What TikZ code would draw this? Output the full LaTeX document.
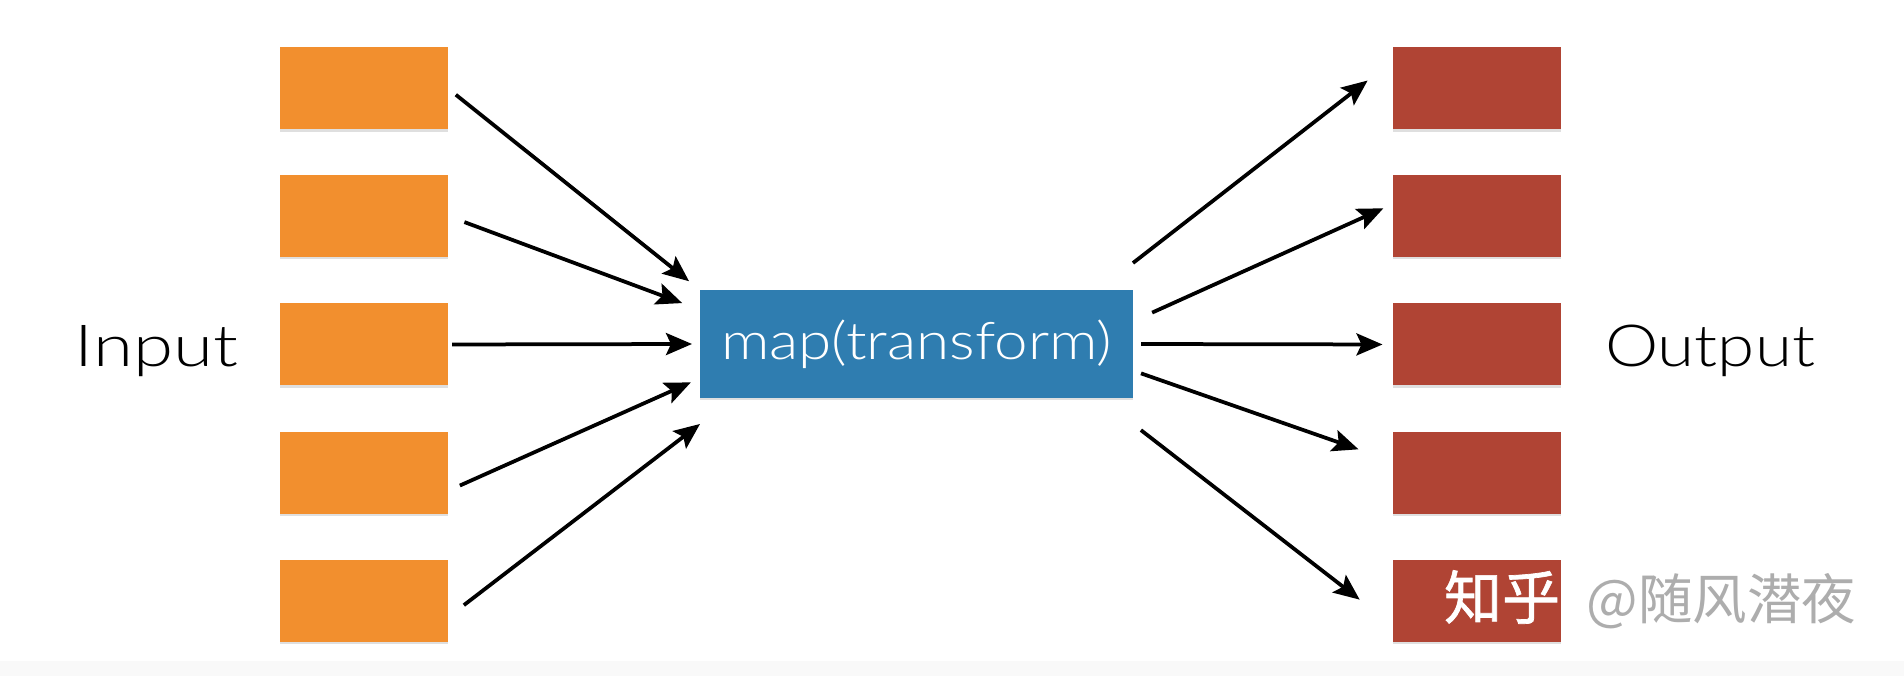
\documentclass[tikz,border=0pt]{standalone}
\usepackage{fontspec}
\setmainfont{Lato Light}[FakeStretch=1.16]
\newfontfamily\cjkbold{Noto Sans CJK SC}[FakeBold=1.2]
\newfontfamily\cjklight{Noto Sans CJK SC}
\usetikzlibrary{arrows.meta,shadows}
\definecolor{inorange}{HTML}{F28F2E}
\definecolor{outred}{HTML}{B04434}
\definecolor{mapblue}{HTML}{2F7DB0}
\tikzset{
  cellbox/.style={minimum width=3.36cm,minimum height=1.64cm,inner sep=0,outer sep=0,
    drop shadow={shadow xshift=0cm,shadow yshift=-0.05cm,opacity=0.25}},
  inbox/.style={cellbox,fill=inorange},
  outbox/.style={cellbox,fill=outred},
  mapbox/.style={cellbox,minimum width=8.66cm,minimum height=2.16cm,fill=mapblue,text=white},
  flow/.style={line width=0.075cm,-{Stealth[length=0.52cm,width=0.44cm,inset=0.1cm]}},
  sidelabel/.style={font=\fontsize{33}{36}\selectfont,inner sep=0}
}
\begin{document}
\begin{tikzpicture}
            \useasboundingbox (0,0) rectangle (38.08,13.52);

            % Faint band along the lower edge
            \fill [gray!5] (0,0) rectangle (38.08,0.3);

            % Input column
            \node (in1) [inbox] at (7.28,11.75) {};
            \node (in2) [inbox] at (7.28,9.20) {};
            \node (in3) [inbox] at (7.28,6.63) {};
            \node (in4) [inbox] at (7.28,4.06) {};
            \node (in5) [inbox] at (7.28,1.50) {};
            \node (inlabel) [sidelabel,xscale=1.08] at (3.13,6.50) {Input};

            % Output column
            \node (out1) [outbox] at (29.53,11.75) {};
            \node (out2) [outbox] at (29.53,9.20) {};
            \node (out3) [outbox] at (29.53,6.63) {};
            \node (out4) [outbox] at (29.53,4.06) {};
            \node (out5) [outbox] at (29.53,1.50) {};
            \node (outlabel) [sidelabel] at (34.20,6.50) {Output};

            % Middle box
            \node (map) [mapbox,font=\fontsize{29.5}{32}\selectfont] at (18.33,6.64) {\raisebox{-0.08cm}{map(transform)}};
            \coordinate (mapin5) at ([yshift=-0.52cm]map.south west);
            \coordinate (mapout1) at ([yshift=0.54cm]map.north east);
            \coordinate (mapout5) at ([yshift=-0.52cm]map.south east);

            % Arrows into the middle box
            \draw [flow,shorten <=0.20cm,shorten >=0.28cm] (in1.east) -- (map.north west);
            \draw [flow,shorten <=0.35cm,shorten >=0.38cm] (in2.east) -- (map.171);
            \draw [flow,shorten <=0.08cm,shorten >=0.16cm] (in3.east) -- (map.west);
            \draw [flow,shorten <=0.26cm,shorten >=0.20cm] (in4.-12) -- (map.189);
            \draw [flow,shorten <=0.40cm] (in5.-11) -- (mapin5);

            % Arrows out of the middle box
            \draw [flow,shorten >=0.63cm] (mapout1) -- (out1.162);
            \draw [flow,shorten <=0.42cm,shorten >=0.20cm] (map.6) -- (out2.172);
            \draw [flow,shorten <=0.16cm,shorten >=0.20cm] (map.east) -- (out3.west);
            \draw [flow,shorten <=0.17cm,shorten >=0.72cm] (map.-7) -- (out4.172);
            \draw [flow,shorten <=0.20cm,shorten >=0.83cm] (mapout5) -- (out5.196);

            % Watermark
            \node (mark) [text=white,inner sep=0,font=\cjkbold\fontsize{33}{35}\selectfont] at (30.04,1.58) {知乎};
            \node (author) [text=black!32,inner sep=0,font=\cjklight\fontsize{31}{34}\selectfont] at (34.43,1.50) {@随风潜夜};
        \end{tikzpicture}
\end{document}
